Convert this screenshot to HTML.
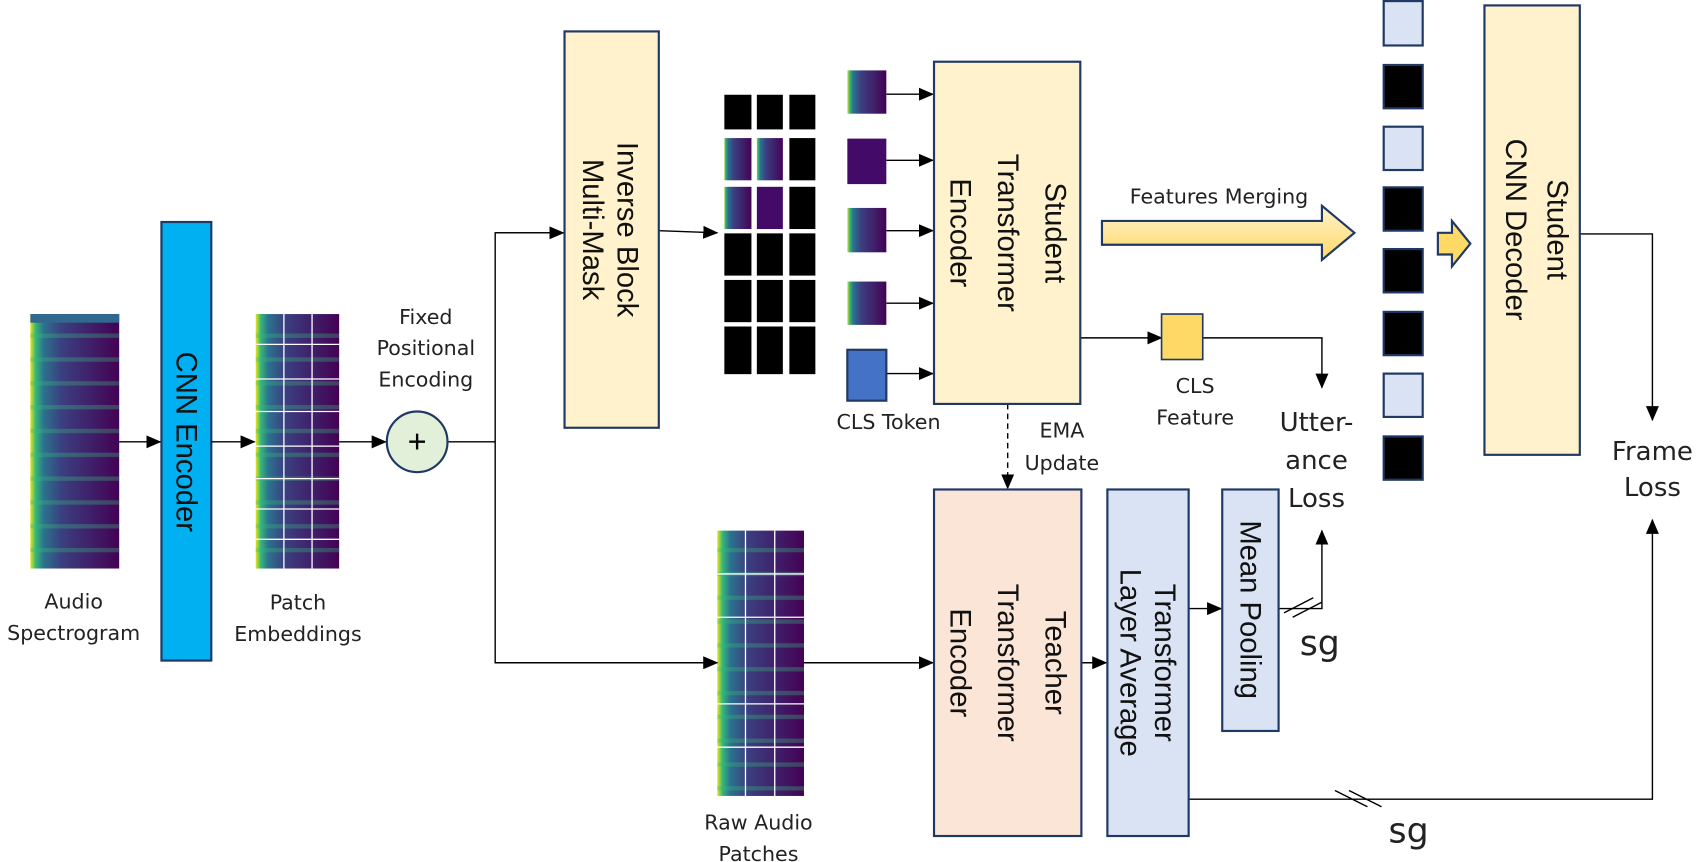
<!DOCTYPE html>
<html><head><meta charset="utf-8"><style>
html,body{margin:0;padding:0;background:#fff;}
svg{display:block;}
.lb{font-family:"DejaVu Sans","Liberation Sans",sans-serif;font-size:19px;fill:#222;text-anchor:middle;}
.bx{font-family:"Liberation Sans Narrow","Liberation Sans",sans-serif;font-size:27px;fill:#111;text-anchor:middle;}
</style></head><body>
<svg width="1699" height="862" viewBox="0 0 1568 796" preserveAspectRatio="none" xmlns="http://www.w3.org/2000/svg">
<defs>
<marker id="ah2" markerWidth="14" markerHeight="12" refX="13" refY="6" orient="auto" markerUnits="userSpaceOnUse"><path d="M0,0 L14,6 L0,12 z" fill="#000"/></marker>
<linearGradient id="spec" x1="0" y1="0" x2="1" y2="0">
<stop offset="0" stop-color="#e6e419"/><stop offset="0.06" stop-color="#35b779"/><stop offset="0.15" stop-color="#2c728e"/><stop offset="0.35" stop-color="#3b3f80"/><stop offset="1" stop-color="#440154"/></linearGradient>
<pattern id="stripe" width="10" height="22" patternUnits="userSpaceOnUse"><rect y="0" width="10" height="4" fill="#35b779" opacity="0.35"/></pattern>
<linearGradient id="arr" x1="0" y1="0" x2="0" y2="1"><stop offset="0" stop-color="#fff2cc"/><stop offset="1" stop-color="#ffd966"/></linearGradient>
</defs>
<rect x="28" y="290" width="82" height="235" fill="url(#spec)"/>
<rect x="28" y="290" width="82" height="235" fill="url(#stripe)"/>
<rect x="28" y="290" width="82" height="8" fill="#31688e"/>
<rect x="236" y="290" width="77" height="235" fill="url(#spec)"/>
<rect x="236" y="290" width="77" height="235" fill="url(#stripe)"/>
<g stroke="#fff" stroke-width="1.2">
<line x1="262" y1="290" x2="262" y2="525"/><line x1="288" y1="290" x2="288" y2="525"/>
<line x1="236" y1="318" x2="313" y2="318"/><line x1="236" y1="350" x2="313" y2="350"/><line x1="236" y1="380" x2="313" y2="380"/><line x1="236" y1="412" x2="313" y2="412"/><line x1="236" y1="442" x2="313" y2="442"/><line x1="236" y1="470" x2="313" y2="470"/><line x1="236" y1="498" x2="313" y2="498"/>
</g>
<rect x="662" y="490" width="80" height="245" fill="url(#spec)"/>
<rect x="662" y="490" width="80" height="245" fill="url(#stripe)"/>
<g stroke="#fff" stroke-width="1.2">
<line x1="688" y1="490" x2="688" y2="735"/><line x1="715" y1="490" x2="715" y2="735"/>
<line x1="662" y1="530" x2="742" y2="530"/><line x1="662" y1="570" x2="742" y2="570"/><line x1="662" y1="650" x2="742" y2="650"/><line x1="662" y1="690" x2="742" y2="690"/>
</g>
<rect x="149" y="205" width="46" height="405" fill="#00b0f0" stroke="#1f3864" stroke-width="2"/>
<text class="bx" transform="translate(172,408) rotate(90)" y="9">CNN Encoder</text>
<text class="lb" x="68" y="562">Audio</text><text class="lb" x="68" y="591">Spectrogram</text>
<text class="lb" x="275" y="563">Patch</text><text class="lb" x="275" y="592">Embeddings</text>
<text class="lb" x="393" y="299">Fixed</text><text class="lb" x="393" y="328">Positional</text><text class="lb" x="393" y="357">Encoding</text>
<g stroke="#000" stroke-width="1.3" fill="none">
<line x1="110" y1="408" x2="148" y2="408" marker-end="url(#ah2)"/>
<line x1="195" y1="408" x2="235" y2="408" marker-end="url(#ah2)"/>
<line x1="313" y1="408" x2="356" y2="408" marker-end="url(#ah2)"/>
<line x1="413" y1="408" x2="457" y2="408"/>
<polyline points="521,215 457,215 457,612 662,612" marker-end="url(#ah2)"/>
<line x1="457" y1="215" x2="520" y2="215" marker-end="url(#ah2)"/>
<line x1="608" y1="213" x2="662" y2="215" marker-end="url(#ah2)"/>
<line x1="818" y1="87" x2="861" y2="87" marker-end="url(#ah2)"/>
<line x1="818" y1="148" x2="861" y2="148" marker-end="url(#ah2)"/>
<line x1="818" y1="213" x2="861" y2="213" marker-end="url(#ah2)"/>
<line x1="818" y1="280" x2="861" y2="280" marker-end="url(#ah2)"/>
<line x1="818" y1="345" x2="861" y2="345" marker-end="url(#ah2)"/>
<line x1="997" y1="312" x2="1072" y2="312" marker-end="url(#ah2)"/>
<polyline points="1110,312 1220,312 1220,358" marker-end="url(#ah2)"/>
<line x1="930" y1="373" x2="930" y2="451" stroke-dasharray="5,4" marker-end="url(#ah2)"/>
<line x1="742" y1="612" x2="861" y2="612" marker-end="url(#ah2)"/>
<line x1="998" y1="612" x2="1021" y2="612" marker-end="url(#ah2)"/>
<line x1="1097" y1="562" x2="1127" y2="562" marker-end="url(#ah2)"/>
<polyline points="1180,562 1220,562 1220,490" marker-end="url(#ah2)"/>
<line x1="1185" y1="566" x2="1212" y2="552"/><line x1="1193" y1="570" x2="1220" y2="556"/>
<polyline points="1458,216 1525,216 1525,388" marker-end="url(#ah2)"/>
<polyline points="1097,738 1525,738 1525,480" marker-end="url(#ah2)"/>
<line x1="1232" y1="730" x2="1262" y2="745"/><line x1="1245" y1="730" x2="1275" y2="745"/>
</g>
<circle cx="385" cy="408" r="28" fill="#e2f0d9" stroke="#1f3864" stroke-width="2"/>
<text x="385" y="418" text-anchor="middle" font-family="Liberation Sans,sans-serif" font-size="30">+</text>
<rect x="521" y="29" width="87" height="366" fill="#fff2cc" stroke="#1f3864" stroke-width="2"/>
<text class="bx" transform="translate(564,212) rotate(90)"><tspan x="0" y="-6">Inverse Block</tspan><tspan x="0" y="26">Multi-Mask</tspan></text>
<g fill="#000" stroke="#fff" stroke-width="1">
<rect x="668" y="87" width="26" height="33"/><rect x="698" y="87" width="25" height="33"/><rect x="728" y="87" width="25" height="33"/>
<rect x="668" y="127" width="26" height="40" fill="url(#spec)"/><rect x="698" y="127" width="25" height="40" fill="url(#spec)"/><rect x="728" y="127" width="25" height="40"/>
<rect x="668" y="172" width="26" height="40" fill="url(#spec)"/><rect x="698" y="172" width="25" height="40" fill="#440a68"/><rect x="728" y="172" width="25" height="40"/>
<rect x="668" y="215" width="26" height="40"/><rect x="698" y="215" width="25" height="40"/><rect x="728" y="215" width="25" height="40"/>
<rect x="668" y="258" width="26" height="40"/><rect x="698" y="258" width="25" height="40"/><rect x="728" y="258" width="25" height="40"/>
<rect x="668" y="301" width="26" height="45"/><rect x="698" y="301" width="25" height="45"/><rect x="728" y="301" width="25" height="45"/>
</g>
<rect x="782" y="65" width="36" height="40" fill="url(#spec)"/>
<rect x="782" y="128" width="36" height="42" fill="#440a68"/>
<rect x="782" y="192" width="36" height="41" fill="url(#spec)"/>
<rect x="782" y="260" width="36" height="40" fill="url(#spec)"/>
<rect x="782" y="323" width="36" height="47" fill="#4472c4" stroke="#1f3864" stroke-width="2"/>
<text class="lb" x="820" y="396">CLS Token</text>
<rect x="862" y="57" width="135" height="316" fill="#fff2cc" stroke="#1f3864" stroke-width="2"/>
<text class="bx" transform="translate(930,215) rotate(90)"><tspan x="0" y="-35">Student</tspan><tspan x="0" y="9">Transformer</tspan><tspan x="0" y="53">Encoder</tspan></text>
<text class="lb" x="1125" y="188">Features Merging</text>
<path d="M1017,204 L1220,204 L1220,190 L1250,215 L1220,240 L1220,226 L1017,226 z" fill="url(#arr)" stroke="#1f3864" stroke-width="2"/>
<path d="M1327,215 L1340,215 L1340,204 L1357,225 L1340,246 L1340,235 L1327,235 z" fill="#ffd966" stroke="#1f3864" stroke-width="2"/>
<rect x="1072" y="290" width="38" height="42" fill="#ffd966" stroke="#1f3864" stroke-width="1.5"/>
<text class="lb" x="1103" y="363">CLS</text><text class="lb" x="1103" y="392">Feature</text>
<text class="lb" x="980" y="404">EMA</text><text class="lb" x="980" y="434">Update</text>
<text class="lb" style="font-size:24px" x="1215" y="398">Utter-</text><text class="lb" style="font-size:24px" x="1215" y="433">ance</text><text class="lb" style="font-size:24px" x="1215" y="468">Loss</text>
<text class="lb" style="font-size:24px" x="1525" y="425">Frame</text><text class="lb" style="font-size:24px" x="1525" y="458">Loss</text>
<text class="lb" style="font-size:32px" x="1218" y="605">sg</text>
<text class="lb" style="font-size:32px" x="1300" y="778">sg</text>
<g stroke="#1f3864" stroke-width="2">
<rect x="1277" y="1" width="36" height="41" fill="#dae3f3"/>
<rect x="1277" y="60" width="36" height="40" fill="#000"/>
<rect x="1277" y="117" width="36" height="40" fill="#dae3f3"/>
<rect x="1277" y="173" width="36" height="40" fill="#000"/>
<rect x="1277" y="230" width="36" height="40" fill="#000"/>
<rect x="1277" y="288" width="36" height="40" fill="#000"/>
<rect x="1277" y="345" width="36" height="40" fill="#dae3f3"/>
<rect x="1277" y="403" width="36" height="40" fill="#000"/>
</g>
<rect x="1370" y="5" width="88" height="415" fill="#fff2cc" stroke="#1f3864" stroke-width="2"/>
<text class="bx" transform="translate(1414,212) rotate(90)"><tspan x="0" y="-14">Student</tspan><tspan x="0" y="24">CNN Decoder</tspan></text>
<rect x="862" y="452" width="136" height="320" fill="#fbe5d6" stroke="#1f3864" stroke-width="2"/>
<text class="bx" transform="translate(930,612) rotate(90)"><tspan x="0" y="-35">Teacher</tspan><tspan x="0" y="9">Transformer</tspan><tspan x="0" y="53">Encoder</tspan></text>
<rect x="1022" y="452" width="75" height="320" fill="#dae3f3" stroke="#1f3864" stroke-width="2"/>
<text class="bx" transform="translate(1059,612) rotate(90)"><tspan x="0" y="-7">Transformer</tspan><tspan x="0" y="25">Layer Average</tspan></text>
<rect x="1128" y="452" width="52" height="223" fill="#dae3f3" stroke="#1f3864" stroke-width="2"/>
<text class="bx" transform="translate(1154,563) rotate(90)" y="9">Mean Pooling</text>
<text class="lb" x="700" y="766">Raw Audio</text><text class="lb" x="700" y="795">Patches</text>
</svg>
</body></html>
